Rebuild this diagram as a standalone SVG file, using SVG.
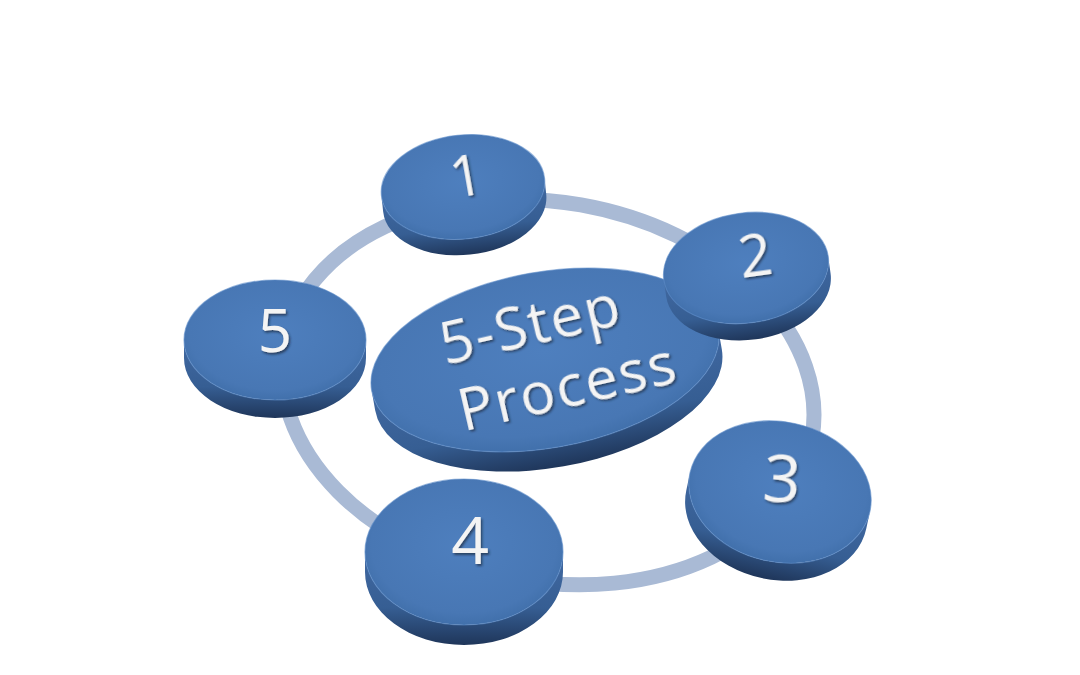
<svg xmlns="http://www.w3.org/2000/svg" width="1080" height="675" viewBox="0 0 1080 675">
<defs>
<linearGradient id="side" x1="0" y1="0" x2="0" y2="1">
<stop offset="0" stop-color="#4169a2"/>
<stop offset="0.6" stop-color="#365e93"/>
<stop offset="1" stop-color="#1f365a"/>
</linearGradient>
<radialGradient id="face" cx="0.5" cy="0.45" r="0.55">
<stop offset="0" stop-color="#4e7fbe"/>
<stop offset="0.85" stop-color="#4877b4"/>
<stop offset="1" stop-color="#4170ab"/>
</radialGradient>
<filter id="sh" x="-20%" y="-20%" width="140%" height="140%">
<feDropShadow dx="1.5" dy="2" stdDeviation="1" flood-color="#1a2a40" flood-opacity="0.7"/>
</filter>
</defs>
<style>
.side{fill:url(#side)}
.face{fill:url(#face);stroke:#5d8cc8;stroke-width:1.2;stroke-opacity:0.6}
.num{font-family:"Open Sans","Liberation Sans",sans-serif;fill:#f4f4f4;text-anchor:middle;filter:url(#sh)}
.ring{fill:none;stroke:#a9bad5;stroke-width:15}
</style>
<rect width="1080" height="675" fill="#ffffff"/>
<g id="connectors">
<ellipse class="ring" cx="548" cy="392" rx="268" ry="190" transform="rotate(10 548 392)"/>
</g>
<g id="center" transform="translate(545 360) rotate(-10)">
<path class="side" d="M-176,0 A176,88 0 0 0 176,0 V20 A176,88 0 0 1 -176,20 Z"/>
<ellipse class="face" cx="0" cy="0" rx="176" ry="88"/>
</g>
<g id="center-label" transform="rotate(-13 550 355)">
<text class="num" x="538" y="341" font-size="58" letter-spacing="2">5-Step</text>
<text class="num" x="560" y="410" font-size="58" letter-spacing="2">Process</text>
</g>
<g id="node1">
<g transform="translate(463 187) rotate(-6)">
<path class="side" d="M-82,0 A82,52 0 0 0 82,0 V16 A82,52 0 0 1 -82,16 Z"/>
<ellipse class="face" cx="0" cy="0" rx="82" ry="52"/>
</g>
<text class="num" x="466" y="196" font-size="56" transform="rotate(-10 466 176)">1</text>
</g>
<g id="node2">
<g transform="translate(746 268) rotate(-8)">
<path class="side" d="M-83,0 A83,55 0 0 0 83,0 V17 A83,55 0 0 1 -83,17 Z"/>
<ellipse class="face" cx="0" cy="0" rx="83" ry="55"/>
</g>
<text class="num" x="755" y="276" font-size="58" transform="rotate(-8 755 255)">2</text>
</g>
<g id="node5">
<g transform="translate(275 340)">
<path class="side" d="M-91,0 A91,60 0 0 0 91,0 V18 A91,60 0 0 1 -91,18 Z"/>
<ellipse class="face" cx="0" cy="0" rx="91" ry="60"/>
</g>
<text class="num" x="275" y="352" font-size="60">5</text>
</g>
<g id="node3">
<g transform="translate(780 492) rotate(12)">
<path class="side" d="M-92,0 A92,70 0 0 0 92,0 V18 A92,70 0 0 1 -92,18 Z"/>
<ellipse class="face" cx="0" cy="0" rx="92" ry="70"/>
</g>
<text class="num" x="782" y="502" font-size="66" transform="rotate(4 782 478)">3</text>
</g>
<g id="node4">
<g transform="translate(464 552)">
<path class="side" d="M-99,0 A99,73 0 0 0 99,0 V20 A99,73 0 0 1 -99,20 Z"/>
<ellipse class="face" cx="0" cy="0" rx="99" ry="73"/>
</g>
<text class="num" x="470" y="564" font-size="66">4</text>
</g>
</svg>
